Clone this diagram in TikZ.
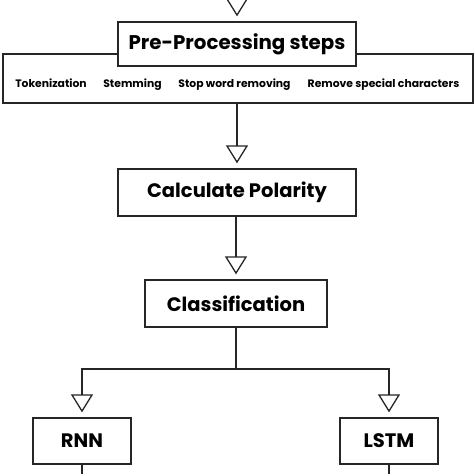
\documentclass[tikz,border=0pt]{standalone}
\usepackage{fontspec}
\setmainfont{Poppins}
\usetikzlibrary{arrows.meta}
\begin{document}
\begin{tikzpicture}[x=1pt,y=-1pt,
  box/.style={draw=black!85,line width=1.3pt,fill=white,inner sep=0pt,font=\bfseries\fontsize{19.5}{22}\selectfont},
  item/.style={inner sep=0pt,anchor=base,font=\bfseries\fontsize{10.8}{12}\selectfont},
  conn/.style={draw=black!85,line width=1.3pt,-{Triangle[open,width=22pt,length=18pt,fill=white]},shorten >=5pt},
  line/.style={draw=black!85,line width=1.3pt}]
\useasboundingbox (0,0) rectangle (474,474);
\fill[white] (0,0) rectangle (474,474);
\node[box,minimum width=470pt,minimum height=49pt] (wide) at (238,78.5) {};
\node[box,minimum width=238pt,minimum height=44pt,font=\bfseries\fontsize{19.8}{22}\selectfont] (pre) at (237,44) {Pre-Processing steps};
\node[item] (tok) at (51,87) {Tokenization};
\node[item] (stem) at (132.5,87) {Stemming};
\node[item] (stop) at (234.5,87) {Stop word removing};
\node[item] (rem) at (383.5,87) {Remove special characters};
\node[box,minimum width=238pt,minimum height=47pt] (calc) at (237,192.5) {Calculate Polarity};
\node[box,minimum width=182pt,minimum height=47pt] (cls) at (236,303.5) {Classification};
\node[box,minimum width=98pt,minimum height=46pt] (rnn) at (82,441) {RNN};
\node[box,minimum width=98pt,minimum height=46pt] (lstm) at (389,441) {LSTM};
\coordinate (topin) at (237,-30);
\coordinate (branch) at (236,369);
\coordinate (rnnout) at (82,490);
\coordinate (lstmout) at (389,490);
\draw[conn] (topin) -- (pre.north);
\draw[conn] (wide.south -| pre.south) -- (calc.north);
\draw[conn] (calc.south -| cls.north) -- (cls.north);
\draw[line] (cls.south) -- (branch);
\draw[conn] (branch) -| (rnn.north);
\draw[conn] (branch) -| (lstm.north);
\draw[line] (rnn.south) -- (rnnout);
\draw[line] (lstm.south) -- (lstmout);
\end{tikzpicture}
\end{document}
